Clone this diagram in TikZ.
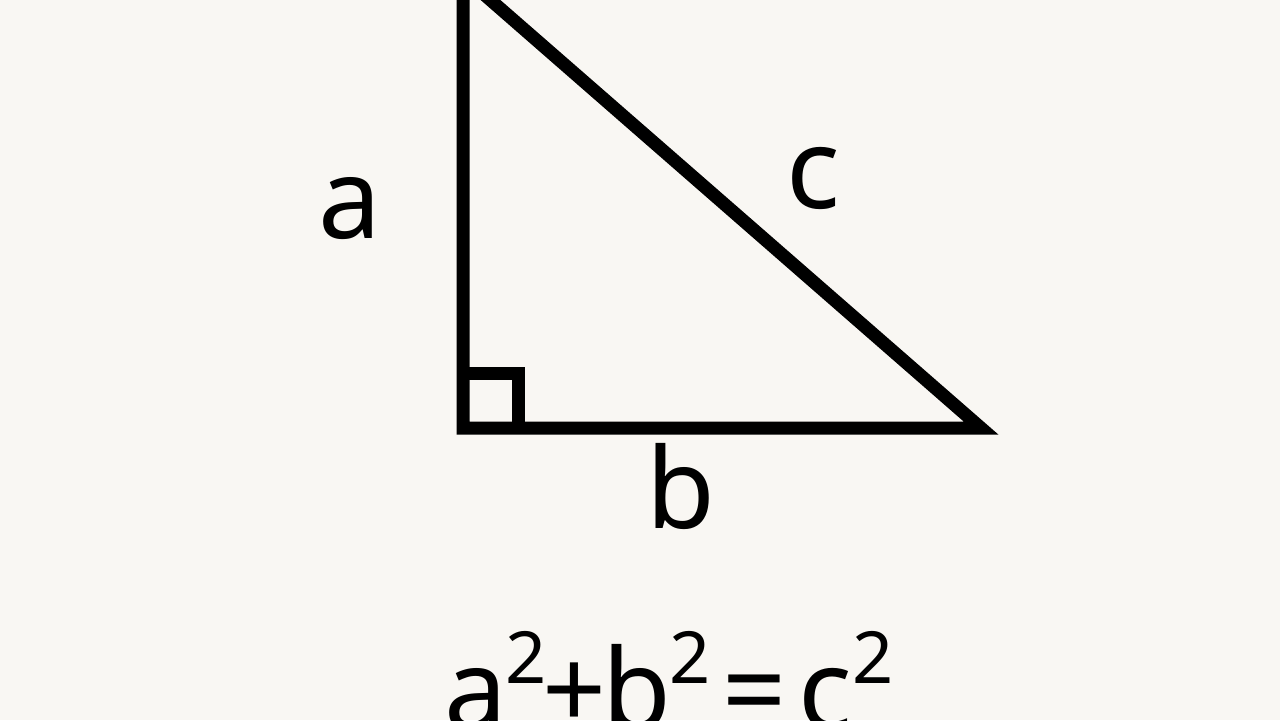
\documentclass[tikz,border=0pt]{standalone}
\usepackage{fontspec}
\setmainfont{Noto Sans}
\definecolor{paper}{HTML}{F9F7F3}
\newcommand{\sqsup}[1]{\raisebox{23pt}{\fontsize{36}{40}\selectfont #1}}
\begin{document}
\begin{tikzpicture}[x=0.5pt,y=-0.5pt,
    side/.style={line width=6.5pt, line join=miter},
    lbl/.style={anchor=base, inner sep=0pt, font=\fontsize{56}{64}\selectfont}]

      % Background
      \useasboundingbox (0,0) rectangle (1280,720);
      \fill[paper] (0,0) rectangle (1280,720);
      \clip (0,0) rectangle (1280,720);

      % Vertices
      \coordinate (top) at (463,-24);
      \coordinate (rt) at (463,428);
      \coordinate (right) at (981,428);

      % Triangle
      \draw[side] (top) -- (rt) -- (right) -- cycle;

      % Right angle mark
      \coordinate (sq1) at (463,373);
      \coordinate (sq2) at (518,428);
      \draw[side] (sq1) -| (sq2);

      % Sides
      \node[lbl] (la) at (350,238) {a};
      \node[lbl] (lb) at (681,528) {b};
      \node[lbl] (lc) at (813,208) {c};

      % Formula
      \node[lbl, anchor=base west] (pyth) at (444,729)
        {a\hspace{-1pt}\sqsup{2}\hspace{-2pt}+\hspace{-2pt}b\hspace{-1pt}\sqsup{2}\hspace{6pt}=\hspace{6pt}c\sqsup{2}};
    \end{tikzpicture}
\end{document}
